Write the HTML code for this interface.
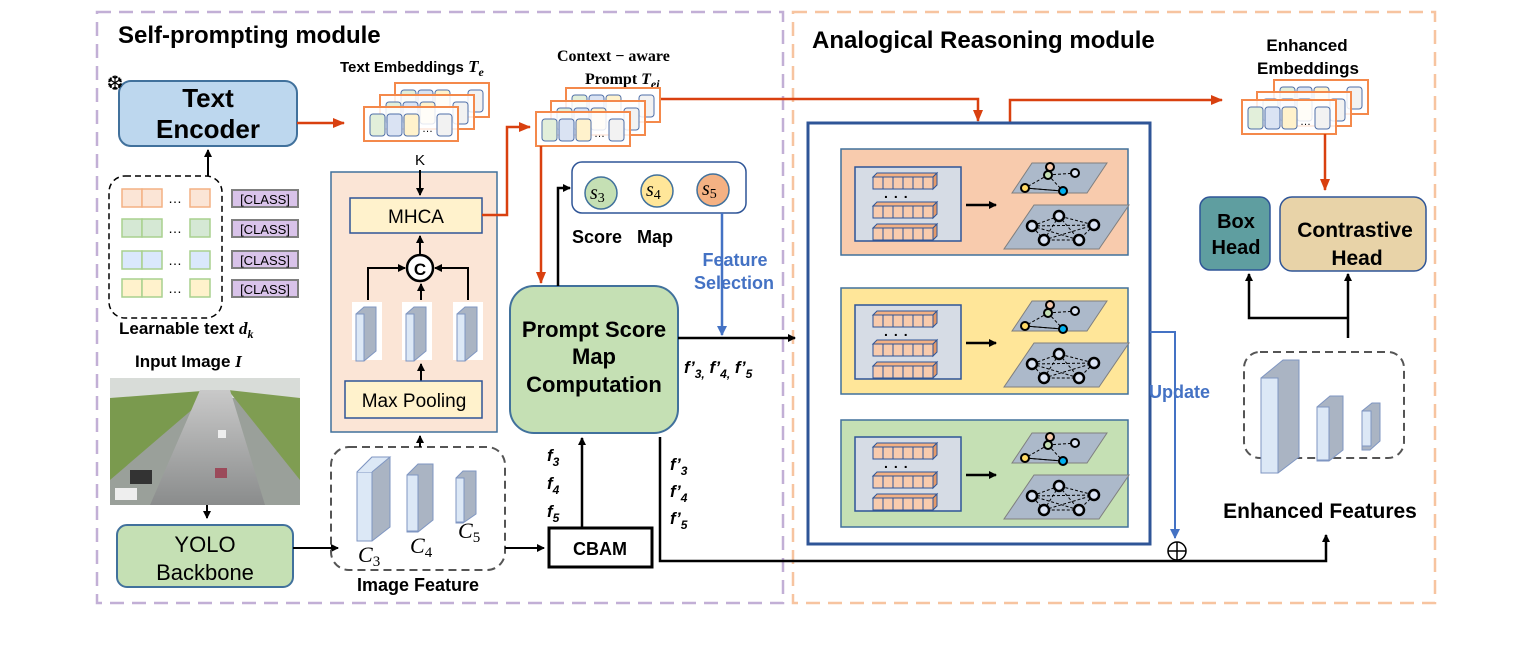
<!DOCTYPE html>
<html><head><meta charset="utf-8"><style>
html,body{margin:0;padding:0;background:#fff;}
svg{display:block;font-family:"Liberation Sans",sans-serif;}
.b{font-weight:bold;}
</style></head><body>
<svg width="1524" height="656" viewBox="0 0 1524 656" xmlns="http://www.w3.org/2000/svg">
<defs>
<marker id="ak" markerWidth="8" markerHeight="8" refX="7" refY="4" orient="auto" markerUnits="userSpaceOnUse"><path d="M0,0 L8,4 L0,8 z" fill="#000"/></marker>
<marker id="ar" markerWidth="12" markerHeight="10" refX="11" refY="5" orient="auto" markerUnits="userSpaceOnUse"><path d="M0,0 L12,5 L0,10 z" fill="#d9400f"/></marker>
<marker id="ab" markerWidth="10" markerHeight="10" refX="9" refY="5" orient="auto" markerUnits="userSpaceOnUse"><path d="M0,0 L10,5 L0,10 z" fill="#4472c4"/></marker>
<g id="card">
<rect x="0" y="0" width="94" height="34" fill="#fff" fill-opacity="0.85" stroke="#f4894b" stroke-width="2"/>
<rect x="6" y="7" width="15" height="22" rx="3" fill="#e2efda" stroke="#4f6fa8"/>
<rect x="23" y="7" width="15" height="22" rx="3" fill="#dae3f3" stroke="#4f6fa8"/>
<rect x="40" y="7" width="15" height="22" rx="3" fill="#fff2cc" stroke="#4f6fa8"/>
<text x="58" y="25" font-size="11">…</text>
<rect x="73" y="7" width="15" height="22" rx="3" fill="#f2f2f2" stroke="#4f6fa8"/>
</g>
<g id="cub">
<path d="M0,0 l4,-4 h60 l-4,4 z" fill="#f4b183" stroke="#2f5597"/>
<path d="M60,0 l4,-4 v12 l-4,4 z" fill="#e59a6a" stroke="#2f5597"/>
<rect x="0" y="0" width="60" height="12" fill="#f8cbad" stroke="#2f5597"/>
<path d="M10,0 v12 M20,0 v12 M30,0 v12 M40,0 v12 M50,0 v12" stroke="#2f5597"/>
</g>
<g id="graphs">
<path d="M28,0 h75 l-20,30 h-75 z" fill="#acb9ca" stroke="#7f7f7f"/>
<path d="M30,42 h95 l-30,44 h-95 z" fill="#acb9ca" stroke="#7f7f7f"/>
<path d="M44,12 L21,25 L58,28 M44,12 L72,10 M44,12 L59,28" stroke="#000" fill="none" stroke-dasharray="3,2"/>
<line x1="21" y1="25" x2="58" y2="28" stroke="#000"/>
<circle cx="46" cy="4" r="4" fill="#f8cbad" stroke="#000" stroke-width="2"/>
<circle cx="44" cy="12" r="4" fill="#c5e0b4" stroke="#000" stroke-width="2"/>
<circle cx="71" cy="10" r="4" fill="#dae3f3" stroke="#000" stroke-width="2"/>
<circle cx="21" cy="25" r="4" fill="#ffd966" stroke="#000" stroke-width="2"/>
<circle cx="59" cy="28" r="4" fill="#00b0f0" stroke="#000" stroke-width="2"/>
<path d="M55,53 L28,63 L40,77 L75,77 L90,62 Z M55,53 L40,77 M55,53 L75,77 M28,63 L90,62 M28,63 L75,77 M40,77 L90,62" stroke="#000" fill="none" stroke-dasharray="3,2"/>
<circle cx="55" cy="53" r="5" fill="#dae3f3" stroke="#000" stroke-width="2.5"/>
<circle cx="28" cy="63" r="5" fill="#dae3f3" stroke="#000" stroke-width="2.5"/>
<circle cx="90" cy="62" r="5" fill="#dae3f3" stroke="#000" stroke-width="2.5"/>
<circle cx="40" cy="77" r="5" fill="#dae3f3" stroke="#000" stroke-width="2.5"/>
<circle cx="75" cy="77" r="5" fill="#dae3f3" stroke="#000" stroke-width="2.5"/>
</g>
<linearGradient id="road" x1="0" y1="0" x2="0" y2="1"><stop offset="0" stop-color="#c9c9c9"/><stop offset="1" stop-color="#8a8c8c"/></linearGradient>
</defs>

<rect x="97" y="12" width="686" height="591" fill="none" stroke="#c2afd6" stroke-width="2.5" stroke-dasharray="14,8"/>
<rect x="793" y="12" width="642" height="591" fill="none" stroke="#f7c4a0" stroke-width="2.5" stroke-dasharray="14,8"/>
<text x="118" y="43" class="b" font-size="24">Self-prompting module</text>
<text x="812" y="48" class="b" font-size="24">Analogical Reasoning module</text>

<rect x="119" y="81" width="178" height="65" rx="12" fill="#bdd7ee" stroke="#41719c" stroke-width="2"/>
<text x="208" y="107" class="b" font-size="26" text-anchor="middle">Text</text>
<text x="208" y="138" class="b" font-size="26" text-anchor="middle">Encoder</text>
<text x="115" y="90" font-size="20" text-anchor="middle">❆</text>
<line x1="297" y1="123" x2="344" y2="123" stroke="#d9400f" stroke-width="2.5" marker-end="url(#ar)"/>
<line x1="208" y1="176" x2="208" y2="150" stroke="#000" stroke-width="2" marker-end="url(#ak)"/>

<text x="340" y="72" class="b" font-size="15">Text Embeddings <tspan font-family="Liberation Serif" font-style="italic" font-size="17">T</tspan><tspan font-family="Liberation Serif" font-style="italic" font-size="12" dy="4">e</tspan></text>
<use href="#card" x="395" y="83"/>
<use href="#card" x="380" y="95"/>
<use href="#card" x="364" y="107"/>

<text x="557" y="61" class="b" font-size="16" font-family="Liberation Serif">Context − aware</text>
<text x="585" y="84" class="b" font-size="16" font-family="Liberation Serif">Prompt <tspan font-style="italic">T</tspan><tspan font-style="italic" font-size="12" dy="4">ei</tspan></text>
<use href="#card" x="566" y="88"/>
<use href="#card" x="551" y="101"/>
<use href="#card" x="536" y="112"/>

<rect x="109" y="176" width="113" height="142" rx="16" fill="none" stroke="#000" stroke-width="1.5" stroke-dasharray="6,4"/>
<g stroke-width="1.5">
<rect x="122" y="189" width="20" height="18" fill="#fbe5d6" stroke="#f4b183"/><rect x="142" y="189" width="20" height="18" fill="#fbe5d6" stroke="#f4b183"/><rect x="190" y="189" width="20" height="18" fill="#fbe5d6" stroke="#f4b183"/>
<rect x="122" y="219" width="20" height="18" fill="#d5e8d4" stroke="#a9d18e"/><rect x="142" y="219" width="20" height="18" fill="#d5e8d4" stroke="#a9d18e"/><rect x="190" y="219" width="20" height="18" fill="#d5e8d4" stroke="#a9d18e"/>
<rect x="122" y="251" width="20" height="18" fill="#dae8fc" stroke="#a9d18e"/><rect x="142" y="251" width="20" height="18" fill="#dae8fc" stroke="#a9d18e"/><rect x="190" y="251" width="20" height="18" fill="#dae8fc" stroke="#a9d18e"/>
<rect x="122" y="279" width="20" height="18" fill="#fff2cc" stroke="#a9d18e"/><rect x="142" y="279" width="20" height="18" fill="#fff2cc" stroke="#a9d18e"/><rect x="190" y="279" width="20" height="18" fill="#fff2cc" stroke="#a9d18e"/>
</g>
<g font-size="14"><text x="168" y="203">…</text><text x="168" y="233">…</text><text x="168" y="265">…</text><text x="168" y="293">…</text></g>
<g font-size="13" fill="#000">
<rect x="232" y="190" width="66" height="17" fill="#d9c3ea" stroke="#7f7f7f" stroke-width="2"/><text x="265" y="204" text-anchor="middle">[CLASS]</text>
<rect x="232" y="220" width="66" height="17" fill="#d9c3ea" stroke="#7f7f7f" stroke-width="2"/><text x="265" y="234" text-anchor="middle">[CLASS]</text>
<rect x="232" y="251" width="66" height="17" fill="#d9c3ea" stroke="#7f7f7f" stroke-width="2"/><text x="265" y="265" text-anchor="middle">[CLASS]</text>
<rect x="232" y="280" width="66" height="17" fill="#d9c3ea" stroke="#7f7f7f" stroke-width="2"/><text x="265" y="294" text-anchor="middle">[CLASS]</text>
</g>
<text x="119" y="334" class="b" font-size="17">Learnable text <tspan font-family="Liberation Serif" font-style="italic">d</tspan><tspan font-family="Liberation Serif" font-style="italic" font-size="12" dy="4">k</tspan></text>
<text x="135" y="367" class="b" font-size="17">Input Image <tspan font-family="Liberation Serif" font-style="italic">I</tspan></text>

<rect x="110" y="378" width="190" height="127" fill="#9aa09a"/>
<rect x="110" y="378" width="190" height="20" fill="#d8dcd8"/>
<path d="M110,398 L215,390 L110,480 Z" fill="#7a9a4e"/>
<path d="M300,398 L228,390 L300,480 Z" fill="#7f9d52"/>
<path d="M200,390 L230,390 L265,505 L150,505 Z" fill="url(#road)"/>
<rect x="130" y="470" width="22" height="14" fill="#333"/>
<rect x="115" y="488" width="22" height="12" fill="#eee"/>
<rect x="215" y="468" width="12" height="10" fill="#9b4a5a"/>
<rect x="218" y="430" width="8" height="8" fill="#eee"/>

<line x1="207" y1="505" x2="207" y2="518" stroke="#000" stroke-width="2" marker-end="url(#ak)"/>
<rect x="117" y="525" width="176" height="62" rx="10" fill="#c5e0b4" stroke="#41719c" stroke-width="2"/>
<text x="205" y="552" font-size="22" text-anchor="middle">YOLO</text>
<text x="205" y="580" font-size="22" text-anchor="middle">Backbone</text>
<line x1="293" y1="548" x2="338" y2="548" stroke="#000" stroke-width="2" marker-end="url(#ak)"/>

<rect x="331" y="447" width="174" height="123" rx="18" fill="none" stroke="#555" stroke-width="2" stroke-dasharray="8,5"/>
<g stroke="#7f96c2">
<path d="M357,472 l15,-15 h18 v70 l-18,14 h-15 z" fill="#aab4c3"/>
<rect x="357" y="472" width="15" height="69" fill="#dce8f6"/>
<path d="M357,472 l15,-15 h18 l-18,15" fill="#dce8f6"/>
<path d="M407,475 l11,-11 h15 v56 l-15,12 h-11 z" fill="#aab4c3"/>
<rect x="407" y="475" width="11" height="56" fill="#dce8f6"/>
<path d="M456,478 l7,-7 h13 v43 l-13,9 h-7 z" fill="#aab4c3"/>
<rect x="456" y="478" width="8" height="44" fill="#dce8f6"/>
</g>
<g font-family="Liberation Serif" font-style="italic" font-size="22">
<text x="358" y="562">C<tspan font-style="normal" font-size="15" dy="4">3</tspan></text>
<text x="410" y="553">C<tspan font-style="normal" font-size="15" dy="4">4</tspan></text>
<text x="458" y="538">C<tspan font-style="normal" font-size="15" dy="4">5</tspan></text>
</g>
<text x="418" y="591" class="b" font-size="18" text-anchor="middle">Image Feature</text>
<line x1="505" y1="548" x2="544" y2="548" stroke="#000" stroke-width="2" marker-end="url(#ak)"/>
<rect x="549" y="528" width="103" height="39" fill="#fff" stroke="#000" stroke-width="3"/>
<text x="600" y="555" class="b" font-size="18" text-anchor="middle">CBAM</text>
<line x1="582" y1="528" x2="582" y2="438" stroke="#000" stroke-width="2.5" marker-end="url(#ak)"/>
<g class="b" font-style="italic" font-size="17">
<text x="547" y="461">f<tspan font-size="12" dy="5">3</tspan></text>
<text x="547" y="489">f<tspan font-size="12" dy="5">4</tspan></text>
<text x="547" y="517">f<tspan font-size="12" dy="5">5</tspan></text>
</g>

<line x1="420" y1="447" x2="420" y2="436" stroke="#000" stroke-width="2" marker-end="url(#ak)"/>
<rect x="331" y="172" width="166" height="260" fill="#fbe5d6" stroke="#41719c" stroke-width="1.5"/>
<text x="420" y="165" font-size="15" text-anchor="middle">K</text>
<line x1="420" y1="170" x2="420" y2="195" stroke="#000" stroke-width="2" marker-end="url(#ak)"/>
<rect x="350" y="198" width="132" height="35" fill="#fff2cc" stroke="#2f5597" stroke-width="1.5"/>
<text x="416" y="223" font-size="19" text-anchor="middle">MHCA</text>
<circle cx="420" cy="268" r="13" fill="#fff" stroke="#000" stroke-width="2.5"/>
<text x="420" y="275" font-size="17" class="b" text-anchor="middle">C</text>
<line x1="420" y1="255" x2="420" y2="236" stroke="#000" stroke-width="2" marker-end="url(#ak)"/>
<path d="M368,300 V268 H405" fill="none" stroke="#000" stroke-width="2" marker-end="url(#ak)"/>
<path d="M468,300 V268 H435" fill="none" stroke="#000" stroke-width="2" marker-end="url(#ak)"/>
<line x1="421" y1="300" x2="421" y2="284" stroke="#000" stroke-width="2" marker-end="url(#ak)"/>
<g stroke="#7f96c2">
<rect x="352" y="302" width="30" height="58" fill="#fff" stroke="none"/><rect x="402" y="302" width="30" height="58" fill="#fff" stroke="none"/><rect x="453" y="302" width="30" height="58" fill="#fff" stroke="none"/>
<path d="M356,314 l8,-7 h12 v44 l-12,10 h-8 z" fill="#aab4c3"/><rect x="356" y="314" width="8" height="47" fill="#dce8f6"/>
<path d="M406,314 l8,-7 h12 v44 l-12,10 h-8 z" fill="#aab4c3"/><rect x="406" y="314" width="8" height="47" fill="#dce8f6"/>
<path d="M457,314 l8,-7 h12 v44 l-12,10 h-8 z" fill="#aab4c3"/><rect x="457" y="314" width="8" height="47" fill="#dce8f6"/>
</g>
<line x1="421" y1="381" x2="421" y2="364" stroke="#000" stroke-width="2" marker-end="url(#ak)"/>
<rect x="345" y="381" width="137" height="37" fill="#fff2cc" stroke="#2f5597" stroke-width="1.5"/>
<text x="414" y="407" font-size="19" text-anchor="middle">Max Pooling</text>

<path d="M482,215 H507 V127 H530" fill="none" stroke="#d9400f" stroke-width="2.5" marker-end="url(#ar)"/>
<line x1="541" y1="146" x2="541" y2="283" stroke="#d9400f" stroke-width="2.5" marker-end="url(#ar)"/>
<path d="M661,99 H978 V121" fill="none" stroke="#d9400f" stroke-width="2.5" marker-end="url(#ar)"/>
<path d="M1010,123 V100 H1222" fill="none" stroke="#d9400f" stroke-width="2.5" marker-end="url(#ar)"/>

<rect x="510" y="286" width="168" height="147" rx="24" fill="#c5e0b4" stroke="#41719c" stroke-width="2"/>
<text x="594" y="337" class="b" font-size="22" text-anchor="middle">Prompt Score</text>
<text x="594" y="364" class="b" font-size="22" text-anchor="middle">Map</text>
<text x="594" y="392" class="b" font-size="22" text-anchor="middle">Computation</text>
<path d="M558,286 V188 H570" fill="none" stroke="#000" stroke-width="2.5" marker-end="url(#ak)"/>
<rect x="572" y="162" width="174" height="51" rx="10" fill="#fff" stroke="#2f5597" stroke-width="1.5"/>
<circle cx="601" cy="193" r="16" fill="#c5e0b4" stroke="#41719c" stroke-width="1.5"/>
<circle cx="657" cy="191" r="16" fill="#ffe699" stroke="#41719c" stroke-width="1.5"/>
<circle cx="713" cy="190" r="16" fill="#f4b183" stroke="#41719c" stroke-width="1.5"/>
<g font-family="Liberation Serif" font-style="italic" font-size="20">
<text x="590" y="199">s<tspan font-style="normal" font-size="14" dy="3">3</tspan></text>
<text x="646" y="196">s<tspan font-style="normal" font-size="14" dy="3">4</tspan></text>
<text x="702" y="195">s<tspan font-style="normal" font-size="14" dy="3">5</tspan></text>
</g>
<text x="572" y="243" class="b" font-size="18" xml:space="preserve">Score   Map</text>
<line x1="722" y1="213" x2="722" y2="335" stroke="#4472c4" stroke-width="2.5" marker-end="url(#ab)"/>
<text x="735" y="266" class="b" font-size="18" fill="#4472c4" text-anchor="middle">Feature</text>
<text x="734" y="289" class="b" font-size="18" fill="#4472c4" text-anchor="middle">Selection</text>
<line x1="678" y1="338" x2="795" y2="338" stroke="#000" stroke-width="2.5" marker-end="url(#ak)"/>
<g class="b" font-style="italic" font-size="17">
<text x="684" y="373">f’<tspan font-size="12" dy="5">3,</tspan><tspan dy="-5"> f’</tspan><tspan font-size="12" dy="5">4,</tspan><tspan dy="-5"> f’</tspan><tspan font-size="12" dy="5">5</tspan></text>
<text x="670" y="470">f’<tspan font-size="12" dy="5">3</tspan></text>
<text x="670" y="497">f’<tspan font-size="12" dy="5">4</tspan></text>
<text x="670" y="524">f’<tspan font-size="12" dy="5">5</tspan></text>
</g>
<path d="M660,437 V561 H1326 V535" fill="none" stroke="#000" stroke-width="2.5" marker-end="url(#ak)"/>
<circle cx="1177" cy="551" r="9" fill="#fff" stroke="#000" stroke-width="1.5"/>
<path d="M1168,551 h18 M1177,542 v18" stroke="#000" stroke-width="1.5"/>

<rect x="808" y="123" width="342" height="421" fill="#fff" stroke="#2f5597" stroke-width="3"/>
<rect x="841" y="149" width="287" height="106" fill="#f8cbad" stroke="#41719c" stroke-width="1.5"/>
<rect x="841" y="288" width="287" height="106" fill="#ffe699" stroke="#41719c" stroke-width="1.5"/>
<rect x="841" y="420" width="287" height="107" fill="#c5e0b4" stroke="#41719c" stroke-width="1.5"/>
<g>
<rect x="855" y="167" width="106" height="74" fill="#d6dce5" stroke="#2f5597" stroke-width="1.5"/>
<use href="#cub" x="873" y="177"/><use href="#cub" x="873" y="206"/><use href="#cub" x="873" y="228"/>
<text x="884" y="198" class="b" font-size="14" letter-spacing="6">...</text>
<line x1="966" y1="205" x2="996" y2="205" stroke="#000" stroke-width="2.5" marker-end="url(#ak)"/>
<use href="#graphs" x="1004" y="163"/>
</g>
<g>
<rect x="855" y="305" width="106" height="74" fill="#d6dce5" stroke="#2f5597" stroke-width="1.5"/>
<use href="#cub" x="873" y="315"/><use href="#cub" x="873" y="344"/><use href="#cub" x="873" y="366"/>
<text x="884" y="336" class="b" font-size="14" letter-spacing="6">...</text>
<line x1="966" y1="343" x2="996" y2="343" stroke="#000" stroke-width="2.5" marker-end="url(#ak)"/>
<use href="#graphs" x="1004" y="301"/>
</g>
<g>
<rect x="855" y="437" width="106" height="74" fill="#d6dce5" stroke="#2f5597" stroke-width="1.5"/>
<use href="#cub" x="873" y="447"/><use href="#cub" x="873" y="476"/><use href="#cub" x="873" y="498"/>
<text x="884" y="468" class="b" font-size="14" letter-spacing="6">...</text>
<line x1="966" y1="475" x2="996" y2="475" stroke="#000" stroke-width="2.5" marker-end="url(#ak)"/>
<use href="#graphs" x="1004" y="433"/>
</g>
<path d="M1150,332 H1175 V538" fill="none" stroke="#4472c4" stroke-width="2" marker-end="url(#ab)"/>
<text x="1149" y="398" class="b" font-size="18" fill="#4472c4">Update</text>

<text x="1307" y="51" class="b" font-size="17" text-anchor="middle">Enhanced</text>
<text x="1308" y="74" class="b" font-size="17" text-anchor="middle">Embeddings</text>
<use href="#card" x="1274" y="80"/>
<use href="#card" x="1257" y="92"/>
<use href="#card" x="1242" y="100"/>
<line x1="1325" y1="134" x2="1325" y2="190" stroke="#d9400f" stroke-width="2.5" marker-end="url(#ar)"/>
<rect x="1200" y="197" width="70" height="73" rx="10" fill="#5f9ea0" stroke="#2f5597" stroke-width="1.5"/>
<text x="1236" y="228" class="b" font-size="20" text-anchor="middle">Box</text>
<text x="1236" y="254" class="b" font-size="20" text-anchor="middle">Head</text>
<rect x="1280" y="197" width="146" height="74" rx="12" fill="#e8d3a8" stroke="#2f5597" stroke-width="1.5"/>
<text x="1355" y="237" class="b" font-size="21" text-anchor="middle">Contrastive</text>
<text x="1357" y="265" class="b" font-size="21" text-anchor="middle">Head</text>
<path d="M1348,338 V274" fill="none" stroke="#000" stroke-width="2.5" marker-end="url(#ak)"/>
<path d="M1348,318 H1249 V274" fill="none" stroke="#000" stroke-width="2.5" marker-end="url(#ak)"/>
<rect x="1244" y="352" width="160" height="106" rx="16" fill="none" stroke="#555" stroke-width="2" stroke-dasharray="8,5"/>
<g stroke="#7f96c2">
<path d="M1261,378 l22,-18 h16 v97 l-21,16 h-17 z" fill="#aab4c3"/><rect x="1261" y="378" width="17" height="95" fill="#dce8f6"/>
<path d="M1317,407 l13,-11 h13 v54 l-14,11 h-12 z" fill="#aab4c3"/><rect x="1317" y="407" width="12" height="53" fill="#dce8f6"/>
<path d="M1362,391 l10,-8 h8 v38 l-10,9 h-8 z" transform="translate(0,20)" fill="#aab4c3"/><rect x="1362" y="411" width="9" height="35" fill="#dce8f6"/>
</g>
<text x="1320" y="518" class="b" font-size="21" text-anchor="middle">Enhanced Features</text>
</svg>
</body></html>
